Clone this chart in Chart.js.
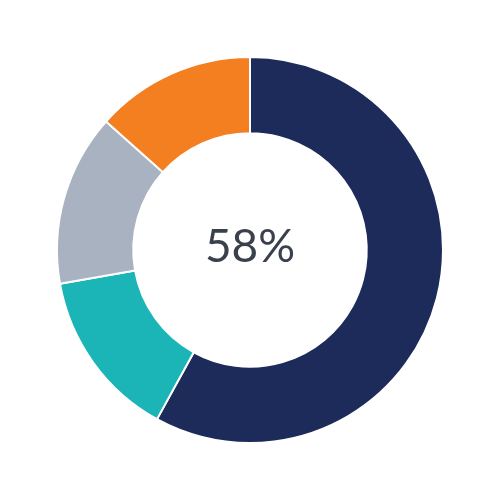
<!DOCTYPE html>
<html>
<head>
<meta charset="utf-8">
<script src="https://cdn.jsdelivr.net/npm/chart.js@4.4.1/dist/chart.umd.min.js"></script>
<style>
  html, body { margin: 0; padding: 0; background: #fff; }
  #wrap { width: 500px; height: 500px; }
</style>
</head>
<body>
<div id="wrap"><canvas id="doughnut"></canvas></div>
<script>
var labels = ['A', 'B', 'C', 'D'];
var values = [58, 14.2, 14.4, 13.4];
var colors = ['#1c2b5a', '#1bb4b7', '#a8b2c1', '#f37f20'];
var centerText = '58%';

var centerLabel = {
    id: 'centerLabel',
    afterDraw: function (chart) {
        var meta = chart.getDatasetMeta(0).data[0];
        var c = chart.ctx;
        c.save();
        c.font = '46px Lato';
        c.fillStyle = '#3a404c';
        c.textAlign = 'center';
        c.textBaseline = 'middle';
        c.fillText(centerText, meta.x, meta.y - 3);
        c.restore();
    }
};

var ctx = document.getElementById('doughnut').getContext('2d');
var myChart = new Chart(ctx, {
    type: 'doughnut',
    data: {
        labels: labels,
        datasets: [{
            data: values,
            backgroundColor: colors,
            borderColor: '#ffffff',
            borderWidth: 2
        }]
    },
    options: {
        responsive: true,
        maintainAspectRatio: false,
        animation: false,
        cutout: '60.5%',
        layout: { padding: 56 },
        plugins: {
            legend: { display: false },
            tooltip: { enabled: false }
        }
    },
    plugins: [centerLabel]
});
</script>
</body>
</html>
